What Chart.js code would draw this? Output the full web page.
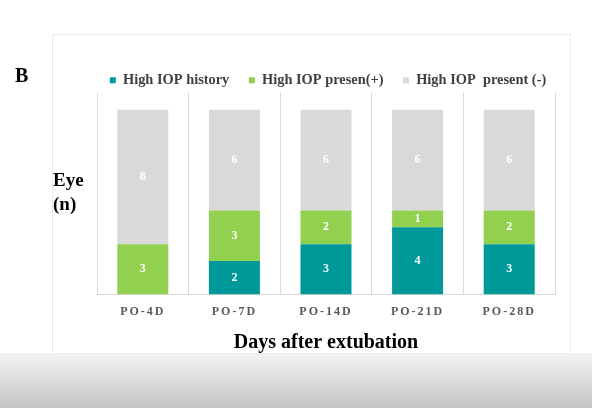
<!DOCTYPE html>
<html>
<head>
<meta charset="utf-8">
<script src="https://cdn.jsdelivr.net/npm/chart.js@4.4.1/dist/chart.umd.min.js"></script>
<style>
  html, body { margin: 0; padding: 0; background: #ffffff; }
  #wrap { position: relative; width: 592px; height: 408px; overflow: hidden; }
  #shade { position: absolute; left: 0; top: 353px; width: 592px; height: 55px;
           background: linear-gradient(#f3f3f3, #c4c4c4); z-index: 0; }
  #c { position: absolute; left: 0; top: 0; z-index: 1; }
</style>
</head>
<body>
<div id="wrap">
  <div id="shade"></div>
  <canvas id="c" width="592" height="408"></canvas>
</div>
<script>
// ---- data ----
const categories = ['PO-4D', 'PO-7D', 'PO-14D', 'PO-21D', 'PO-28D'];
const seriesNames = ['High IOP history', 'High IOP presen(+)', 'High IOP  present (-)'];
const historyValues = [0, 2, 3, 4, 3];
const presentPosValues = [3, 3, 2, 1, 2];
const presentNegValues = [8, 6, 6, 6, 6];
const yAxisLabelLines = ['Eye', '(n)'];
const xAxisTitle = 'Days after extubation';
const panelLetter = 'B';

const SERIF = "'Liberation Serif', 'Times New Roman', serif";

const frameAndText = {
  id: 'frameAndText',
  beforeDraw(chart) {
    const ctx = chart.ctx;
    ctx.save();
    ctx.fillStyle = '#ffffff';
    ctx.fillRect(52, 34, 518, 319);
    ctx.strokeStyle = '#ebebeb';
    ctx.lineWidth = 1;
    ctx.strokeRect(52.5, 34.5, 518, 319);
    ctx.restore();
    // letter-spaced category labels
    const s = chart.scales.x;
    if (s && !s.__ls) {
      const orig = s.drawLabels.bind(s);
      s.drawLabels = function (ca) {
        const c = this.ctx;
        c.save();
        c.letterSpacing = '2px';
        orig(ca);
        c.restore();
      };
      s.__ls = true;
    }
  },
  afterDatasetsDraw(chart) {
    const ctx = chart.ctx;
    ctx.save();
    ctx.font = 'bold 12px ' + SERIF;
    ctx.fillStyle = '#ffffff';
    ctx.textAlign = 'center';
    ctx.textBaseline = 'middle';
    chart.data.datasets.forEach((ds, i) => {
      const meta = chart.getDatasetMeta(i);
      meta.data.forEach((el, j) => {
        const v = ds.data[j];
        if (!v) return;
        ctx.fillText(String(v), el.x, (el.y + el.base) / 2);
      });
    });
    ctx.restore();
  },
  afterDraw(chart) {
    const ctx = chart.ctx;
    ctx.save();
    ctx.fillStyle = '#000000';
    ctx.textAlign = 'left';
    ctx.textBaseline = 'middle';
    ctx.font = 'bold 20px ' + SERIF;
    ctx.fillText(panelLetter, 15, 77);
    ctx.font = 'bold 19px ' + SERIF;
    ctx.fillText(yAxisLabelLines[0], 53, 181);
    ctx.fillText(yAxisLabelLines[1], 53, 205);
    ctx.restore();
  }
};

new Chart(document.getElementById('c'), {
  type: 'bar',
  data: {
    labels: categories,
    datasets: [
      { label: seriesNames[0], data: historyValues, backgroundColor: '#009999', borderWidth: 0 },
      { label: seriesNames[1], data: presentPosValues, backgroundColor: '#92d050', borderWidth: 0 },
      { label: seriesNames[2], data: presentNegValues, backgroundColor: '#d9d9d9', borderWidth: 0 }
    ]
  },
  options: {
    responsive: false,
    animation: false,
    devicePixelRatio: 1,
    layout: { padding: { left: 64, right: 0, top: 53.5, bottom: 53.5 } },
    datasets: { bar: { categoryPercentage: 1, barPercentage: 0.557 } },
    plugins: {
      legend: {
        position: 'top',
        maxHeight: 39.5,
        labels: {
          boxWidth: 6, boxHeight: 6, padding: 19.5,
          color: '#404040',
          font: { family: SERIF, size: 14.4, weight: 'bold' }
        }
      },
      tooltip: { enabled: false },
      title: { display: false }
    },
    scales: {
      x: {
        stacked: true,
        offset: true,
        grid: { display: true, offset: true, color: '#d9d9d9', drawTicks: false },
        border: { display: true, color: '#d9d9d9' },
        ticks: { padding: 10, color: '#595959', font: { family: SERIF, size: 12, weight: 'bold' } },
        title: {
          display: true, text: xAxisTitle, color: '#000000',
          font: { family: SERIF, size: 20, weight: 'bold' },
          padding: { top: 1.6, bottom: 0 }
        }
      },
      y: {
        stacked: true, min: 0, max: 12,
        position: 'left',
        grid: { display: false }, border: { display: false },
        ticks: { display: false },
        afterFit(scale) { scale.width = 33; }
      },
      y2: {
        position: 'right', min: 0, max: 12,
        grid: { display: false }, border: { display: false },
        ticks: { display: false },
        afterFit(scale) { scale.width = 37; }
      }
    }
  },
  plugins: [frameAndText]
});
</script>
</body>
</html>
